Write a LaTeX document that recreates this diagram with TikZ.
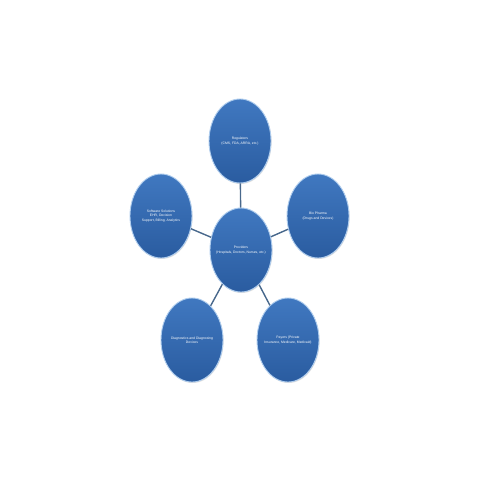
\documentclass[tikz,border=0pt]{standalone}
\usepackage{fontspec}
\setmainfont{Liberation Sans}
\usetikzlibrary{shapes.geometric,shadows}
\definecolor{ballTop}{RGB}{64,120,192}
\definecolor{ballBot}{RGB}{42,92,160}
\definecolor{rimC}{RGB}{175,205,238}
\definecolor{linkC}{RGB}{72,104,140}
\tikzset{
  ball/.style={ellipse, minimum width=62bp, minimum height=84bp, inner sep=0pt,
    top color=ballTop, bottom color=ballBot, draw=rimC, line width=0.9bp,
    drop shadow={shadow xshift=0.6bp, shadow yshift=-1bp, opacity=0.25},
    label={[text=white, align=center, font=\fontsize{3.4}{4.3}\selectfont]center:#1}},
  link/.style={draw=linkC, line width=1.4bp}
}
\begin{document}
\begin{tikzpicture}[x=1bp,y=-1bp]
\useasboundingbox (0,0) rectangle (480,480);
\fill[white] (0,0) rectangle (480,480);
\node[ball={Providers\\(Hospitals, Doctors, Nurses, etc.)}] (prov) at (241,250) {};
\node[ball={Regulators\\(CMS, FDA, ARRA, etc.)}] (reg) at (240,141) {};
\node[ball={Software Solutions\\EHR, Decision\\Support, Billing, Analytics}] (soft) at (161,216) {};
\node[ball={Bio Pharma\\(Drugs and Devices)}] (bio) at (318,216) {};
\node[ball={Diagnostics and Diagnosing\\Devices}] (diag) at (192,340) {};
\node[ball={Payers (Private\\Insurance, Medicare, Medicaid)}] (pay) at (288,340) {};
\draw[link] (prov) -- (reg);
\draw[link] (prov) -- (soft);
\draw[link] (prov) -- (bio);
\draw[link] (prov) -- (diag);
\draw[link] (prov) -- (pay);
\end{tikzpicture}
\end{document}
